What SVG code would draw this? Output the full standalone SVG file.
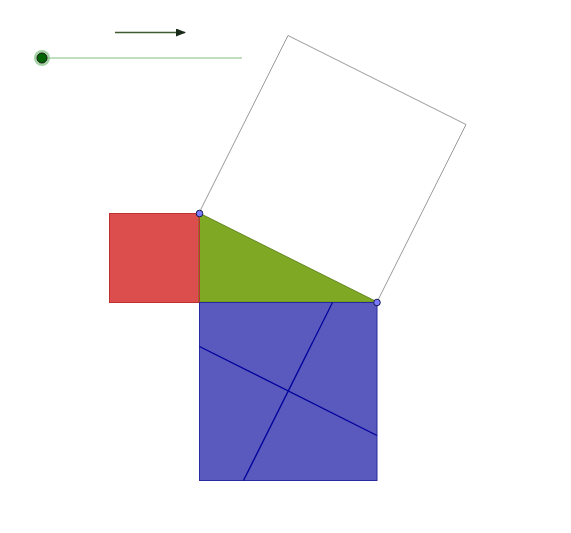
<svg xmlns="http://www.w3.org/2000/svg" width="571" height="533" viewBox="0 0 571 533">
<defs>
<marker id="ah" markerWidth="10" markerHeight="8" refX="9" refY="4" orient="auto" markerUnits="userSpaceOnUse">
<path d="M0,0 L10,4 L0,8 Z" fill="#1a2a1a"/>
</marker>
<style>
.pt{fill:#7b7bff;stroke:#1a1a4a;stroke-width:1}
.cut{stroke:#00009a;stroke-width:1.3;fill:none}
</style>
</defs>
<rect width="571" height="533" fill="#ffffff"/>
<g id="slider">
<line x1="115" y1="32.5" x2="185" y2="32.5" stroke="#3e5a2e" stroke-width="1.5" marker-end="url(#ah)"/>
<line x1="42" y1="58" x2="242" y2="58" stroke="#7fbf7f" stroke-width="1"/>
<circle cx="42" cy="58" r="8" fill="#7fbf7f" opacity="0.7"/>
<circle cx="42" cy="58" r="5" fill="#006400" stroke="#1a1a1a" stroke-width="1"/>
</g>
<g id="squareHyp">
<polygon points="199,213 377,302 466,124.5 288,35.5" fill="#ffffff" stroke="#999999" stroke-width="1"/>
</g>
<g id="squareRed">
<rect x="109.5" y="213.5" width="89.5" height="89" fill="#dc4d4d" stroke="#c03030" stroke-width="1"/>
</g>
<g id="triangle">
<polygon points="199,213 377,302 199,302" fill="#7fa925" stroke="#6a8f1c" stroke-width="1"/>
</g>
<g id="squareBlue">
<rect x="199.5" y="302.5" width="177.5" height="178" fill="#5a5abe" stroke="#2a2aa0" stroke-width="1"/>
</g>
<g id="connectors">
<line class="cut" x1="199.5" y1="346.5" x2="377" y2="435.5"/>
<line class="cut" x1="332.5" y1="302.5" x2="243.5" y2="480.5"/>
<line x1="199.5" y1="213" x2="199.5" y2="302" stroke="#c03030" stroke-width="1"/>
</g>
<g id="pointA"><circle class="pt" cx="199.5" cy="213.5" r="3.3"/></g>
<g id="pointB"><circle class="pt" cx="377" cy="302.5" r="3.3"/></g>
</svg>
